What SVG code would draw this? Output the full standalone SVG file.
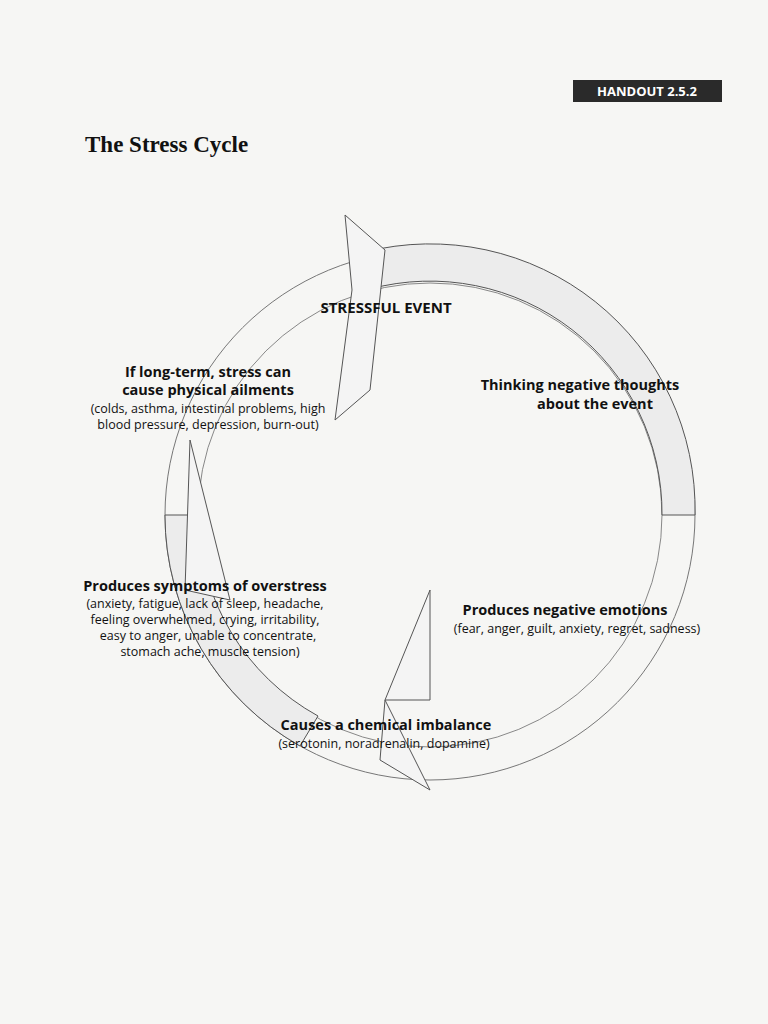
<svg xmlns="http://www.w3.org/2000/svg" width="768" height="1024" viewBox="0 0 768 1024">
<style>
.t{font-family:"Open Sans","Liberation Sans",sans-serif;fill:#111;text-anchor:middle}
.b{font-weight:bold;font-size:14.5px}
.s{font-size:12.5px}
.ring{fill:#ececec;stroke:#555;stroke-width:1}
.head{fill:#f4f4f4;stroke:#555;stroke-width:1}
</style>
<rect width="768" height="1024" fill="#f6f6f4"/>
<g id="header"><rect x="573" y="80" width="149" height="22" fill="#2a2a2a"/><text x="647" y="96" class="t" style="fill:#fff;font-weight:bold;font-size:13px">HANDOUT 2.5.2</text></g>
<g id="title"><text x="85" y="152" style="font-family:'Liberation Serif',serif;font-size:23px;font-weight:bold;fill:#111">The Stress Cycle</text></g>
<g id="connectors">
<circle cx="430" cy="515" r="265" fill="none" stroke="#777"/>
<circle cx="430" cy="515" r="232" fill="none" stroke="#888"/>
<path class="ring" d="M365,252 A265,265 0 0 1 695,515 L662,515 A232,232 0 0 0 370,289 Z"/>
<path class="ring" d="M165,515 A265,265 0 0 0 300,746 L318,716 A232,232 0 0 1 198,515 Z"/>
<polygon class="head" points="345,215 385,250 370,390 335,420 352,290"/>
<polygon class="head" points="430,590 430,700 385,700"/>
<polygon class="head" points="385,700 430,790 380,760"/>
<polygon class="head" points="190,440 230,600 185,590"/>
</g>
<g id="n1"><text x="386" y="313" class="t" style="font-weight:bold;font-size:15px">STRESSFUL EVENT</text></g>
<g id="n2"><text x="580" y="390" class="t b">Thinking negative thoughts</text><text x="595" y="409" class="t b">about the event</text></g>
<g id="n3"><text x="565" y="615" class="t b">Produces negative emotions</text><text x="577" y="633" class="t s">(fear, anger, guilt, anxiety, regret, sadness)</text></g>
<g id="n4"><text x="386" y="730" class="t b">Causes a chemical imbalance</text><text x="384" y="748" class="t s">(serotonin, noradrenalin, dopamine)</text></g>
<g id="n5"><text x="205" y="591" class="t b">Produces symptoms of overstress</text><text x="205" y="608" class="t s">(anxiety, fatigue, lack of sleep, headache,</text><text x="205" y="624" class="t s">feeling overwhelmed, crying, irritability,</text><text x="208" y="640" class="t s">easy to anger, unable to concentrate,</text><text x="210" y="656" class="t s">stomach ache, muscle tension)</text></g>
<g id="n6"><text x="208" y="377" class="t b">If long-term, stress can</text><text x="208" y="395" class="t b">cause physical ailments</text><text x="208" y="413" class="t s">(colds, asthma, intestinal problems, high</text><text x="208" y="429" class="t s">blood pressure, depression, burn-out)</text></g>
</svg>
